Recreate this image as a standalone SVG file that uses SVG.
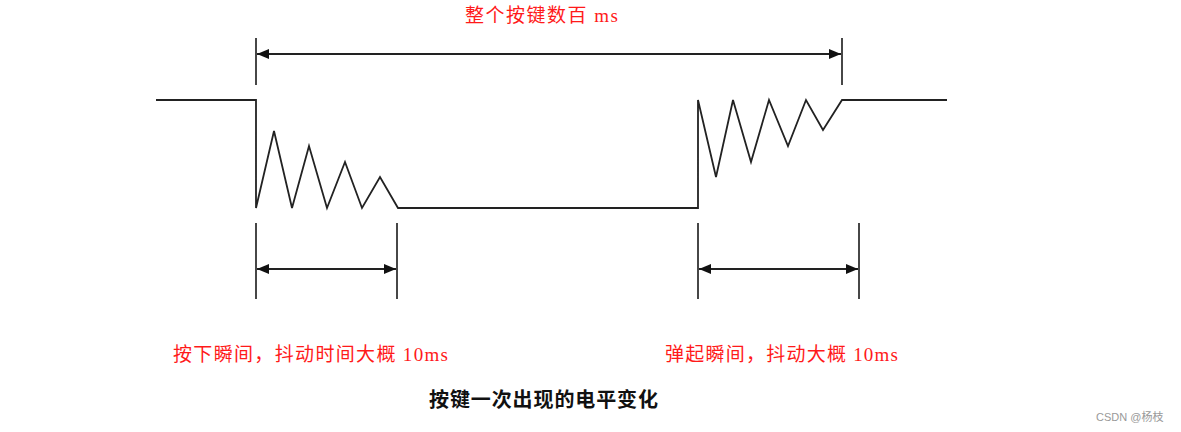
<svg xmlns="http://www.w3.org/2000/svg" width="1181" height="432" viewBox="0 0 1181 432">
<style>
.w{fill:none;stroke:#222;stroke-width:1.8;stroke-linejoin:miter}
.t{fill:none;stroke:#333;stroke-width:1.8}
.a{fill:none;stroke:#222;stroke-width:1.8}
.red{fill:#ff1a1a;font-family:"Liberation Serif","Noto Sans CJK SC",serif;font-size:19px}
.ttl{fill:#111;font-family:"Noto Sans CJK SC",sans-serif;font-size:20px;font-weight:bold}
.wm{fill:#999;font-family:"Liberation Sans","Noto Sans CJK SC",sans-serif;font-size:11px}
</style>
<defs>
<marker id="ah" viewBox="0 0 12 10" refX="12" refY="5" markerWidth="12" markerHeight="10" markerUnits="userSpaceOnUse" orient="auto-start-reverse">
<path d="M0,0 L12,5 L0,10 z" fill="#111"/>
</marker>
</defs>
<rect width="1181" height="432" fill="#fff"/>
<g id="waveform">
<polyline class="w" points="156,100 256,100 256,208 274,131 292,208 309,146 327,208 345,162 362,208 380,177 398,208 698,208 698,100 716,177 733,100 751,162 769,100 788,146 806,100 823,130 842,100 947,100"/>
</g>
<g id="ticks">
<line class="t" x1="256" y1="38" x2="256" y2="85"/>
<line class="t" x1="842" y1="38" x2="842" y2="85"/>
<line class="t" x1="256" y1="223" x2="256" y2="299"/>
<line class="t" x1="397" y1="223" x2="397" y2="299"/>
<line class="t" x1="698" y1="223" x2="698" y2="299"/>
<line class="t" x1="859" y1="223" x2="859" y2="299"/>
</g>
<g id="connectors">
<line class="a" x1="257" y1="54" x2="841" y2="54" marker-start="url(#ah)" marker-end="url(#ah)"/>
<line class="a" x1="257" y1="269" x2="396" y2="269" marker-start="url(#ah)" marker-end="url(#ah)"/>
<line class="a" x1="699" y1="269" x2="858" y2="269" marker-start="url(#ah)" marker-end="url(#ah)"/>
</g>
<g id="labels">
<text class="red" x="465" y="22" textLength="153" lengthAdjust="spacing">整个按键数百 ms</text>
<text class="red" x="173" y="361" textLength="275" lengthAdjust="spacing">按下瞬间，抖动时间大概 10ms</text>
<text class="red" x="665" y="361" textLength="233" lengthAdjust="spacing">弹起瞬间，抖动大概 10ms</text>
<text class="ttl" x="429" y="407" textLength="229" lengthAdjust="spacing">按键一次出现的电平变化</text>
<text class="wm" x="1096" y="421">CSDN @杨枝</text>
</g>
</svg>
